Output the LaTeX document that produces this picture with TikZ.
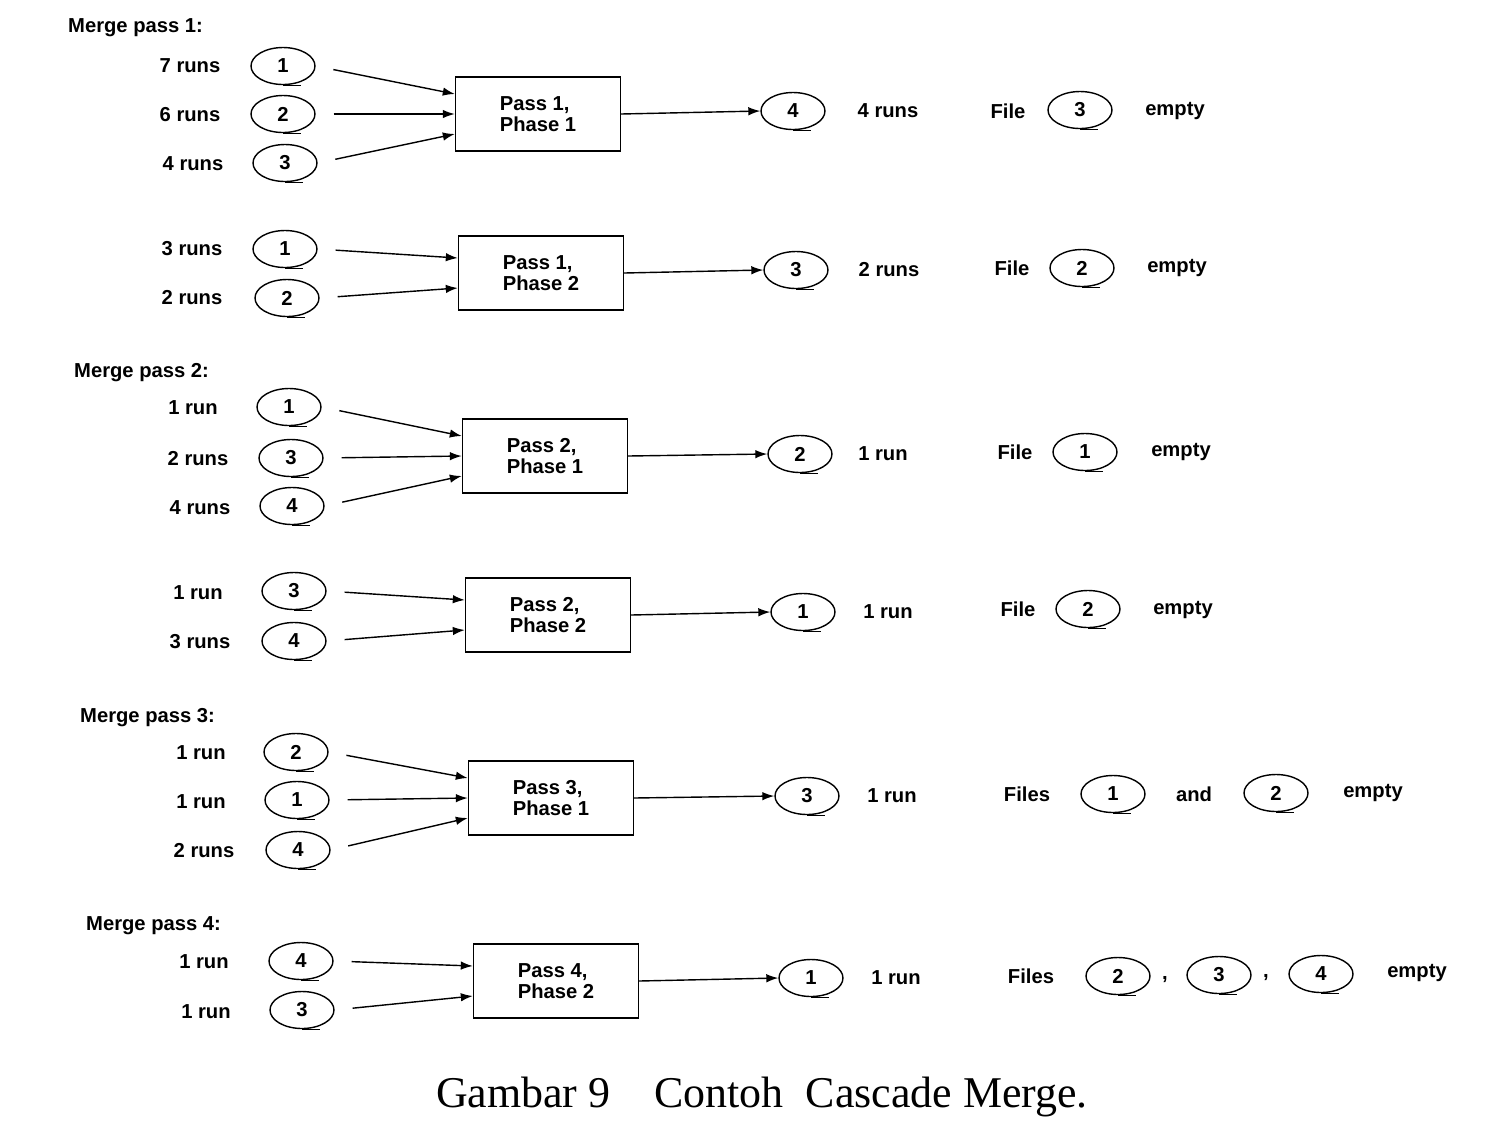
\documentclass[tikz,border=0pt]{standalone}
\usepackage{fontspec}
\setmainfont{Liberation Sans}
\newfontfamily\capfont{Liberation Serif}
\usetikzlibrary{positioning}
\usetikzlibrary{shapes.geometric}
\usetikzlibrary{arrows.meta}
\tikzstyle{tape}=[ellipse, draw, thick, minimum width=1.28cm, minimum height=0.74cm,
  inner sep=0pt, font=\fontsize{11.5}{12}\selectfont\bfseries,
  append after command={(\tikzlastnode.south) edge[thick, -] ++(0.36cm,0)}]
\tikzstyle{pass}=[rectangle, draw, thick, minimum width=3.3cm, minimum height=1.48cm,
  align=left, font=\fontsize{11.5}{12}\selectfont\bfseries]
\tikzstyle{lbl}=[font=\fontsize{11.5}{12}\selectfont\bfseries]
\tikzstyle{head}=[lbl, anchor=west]
\tikzstyle{arrin}=[-{Latex[length=2.4mm,width=1.7mm]}, thick, shorten <=0.36cm]
\tikzstyle{arrout}=[-{Latex[length=2.4mm,width=1.7mm]}, thick]

\begin{document}
\begin{tikzpicture}[x=0.02cm, y=-0.02cm]
\useasboundingbox (0,0) rectangle (1502,1127);

% merge pass 1, phase 1
\node[head] (mp1) at (62,28) {Merge pass 1:};
\node[lbl] (r11) at (190,66) {7 runs};
\node[tape] (t11) at (283,66) {1};
\node[lbl] (r12) at (190,115) {6 runs};
\node[tape] (t12) at (283,114) {2};
\node[lbl] (r13) at (193,164) {4 runs};
\node[tape] (t13) at (285,163) {3};
\node[pass] (b11) at (538,114) {Pass 1,\\Phase 1};
\draw[arrin] (t11.east) -- ([yshift=0.4cm]b11.west);
\draw[arrin] (t12.east) -- (b11.west);
\draw[arrin] (t13.east) -- ([yshift=-0.4cm]b11.west);
\node[tape] (o11) at (793,111) {4};
\draw[arrout] (b11.east) -- (o11.west);
\node[lbl] (n11) at (888,111) {4 runs};
\node[lbl] (f11) at (1008,111) {File};
\node[tape] (e11) at (1080,110) {3};
\node[lbl] (m11) at (1175,111) {empty};

% merge pass 1, phase 2
\node[lbl] (r21) at (192,249) {3 runs};
\node[tape] (t21) at (285,249) {1};
\node[lbl] (r22) at (192,298) {2 runs};
\node[tape] (t22) at (287,298) {2};
\node[pass] (b12) at (541,273) {Pass 1,\\Phase 2};
\draw[arrin] (t21.east) -- ([yshift=0.3cm]b12.west);
\draw[arrin] (t22.east) -- ([yshift=-0.3cm]b12.west);
\node[tape] (o12) at (796,270) {3};
\draw[arrout] (b12.east) -- (o12.west);
\node[lbl] (n12) at (889,270) {2 runs};
\node[lbl] (f12) at (1012,268) {File};
\node[tape] (e12) at (1082,268) {2};
\node[lbl] (m12) at (1177,268) {empty};

% merge pass 2, phase 1
\node[head] (mp2) at (68,373) {Merge pass 2:};
\node[lbl] (r31) at (193,408) {1 run};
\node[tape] (t31) at (289,407) {1};
\node[lbl] (r32) at (198,459) {2 runs};
\node[tape] (t32) at (291,458) {3};
\node[lbl] (r33) at (200,508) {4 runs};
\node[tape] (t33) at (292,506) {4};
\node[pass] (b21) at (545,456) {Pass 2,\\Phase 1};
\draw[arrin] (t31.east) -- ([yshift=0.4cm]b21.west);
\draw[arrin] (t32.east) -- (b21.west);
\draw[arrin] (t33.east) -- ([yshift=-0.4cm]b21.west);
\node[tape] (o21) at (800,454) {2};
\draw[arrout] (b21.east) -- (o21.west);
\node[lbl] (n21) at (883,454) {1 run};
\node[lbl] (f21) at (1015,452) {File};
\node[tape] (e21) at (1085,452) {1};
\node[lbl] (m21) at (1181,452) {empty};

% merge pass 2, phase 2
\node[lbl] (r41) at (198,593) {1 run};
\node[tape] (t41) at (294,591) {3};
\node[lbl] (r42) at (200,642) {3 runs};
\node[tape] (t42) at (294,641) {4};
\node[pass] (b22) at (548,615) {Pass 2,\\Phase 2};
\draw[arrin] (t41.east) -- ([yshift=0.3cm]b22.west);
\draw[arrin] (t42.east) -- ([yshift=-0.3cm]b22.west);
\node[tape] (o22) at (803,612) {1};
\draw[arrout] (b22.east) -- (o22.west);
\node[lbl] (n22) at (888,612) {1 run};
\node[lbl] (f22) at (1018,609) {File};
\node[tape] (e22) at (1088,609) {2};
\node[lbl] (m22) at (1183,610) {empty};

% merge pass 3
\node[head] (mp3) at (74,718) {Merge pass 3:};
\node[lbl] (r51) at (201,753) {1 run};
\node[tape] (t51) at (296,752) {2};
\node[lbl] (r52) at (201,802) {1 run};
\node[tape] (t52) at (297,800) {1};
\node[lbl] (r53) at (204,851) {2 runs};
\node[tape] (t53) at (298,850) {4};
\node[pass] (b31) at (551,798) {Pass 3,\\Phase 1};
\draw[arrin] (t51.east) -- ([yshift=0.4cm]b31.west);
\draw[arrin] (t52.east) -- (b31.west);
\draw[arrin] (t53.east) -- ([yshift=-0.4cm]b31.west);
\node[tape] (o31) at (807,796) {3};
\draw[arrout] (b31.east) -- (o31.west);
\node[lbl] (n31) at (892,796) {1 run};
\node[lbl] (f31) at (1027,794) {Files};
\node[tape] (e31) at (1113,794) {1};
\node[lbl] (a31) at (1194,794) {and};
\node[tape] (e32) at (1276,793) {2};
\node[lbl] (m31) at (1373,793) {empty};

% merge pass 4
\node[head] (mp4) at (80,926) {Merge pass 4:};
\node[lbl] (r61) at (204,962) {1 run};
\node[tape] (t61) at (301,961) {4};
\node[lbl] (r62) at (206,1012) {1 run};
\node[tape] (t62) at (302,1010) {3};
\node[pass] (b42) at (556,981) {Pass 4,\\Phase 2};
\draw[arrin] (t61.east) -- ([yshift=0.3cm]b42.west);
\draw[arrin] (t62.east) -- ([yshift=-0.3cm]b42.west);
\node[tape] (o42) at (811,978) {1};
\draw[arrout] (b42.east) -- (o42.west);
\node[lbl] (n42) at (896,978) {1 run};
\node[lbl] (f42) at (1031,976) {Files};
\node[tape] (e41) at (1118,976) {2};
\node[lbl] (c41) at (1165,980) {,};
\node[tape] (e42) at (1219,975) {3};
\node[lbl] (c42) at (1266,978) {,};
\node[tape] (e43) at (1321,974) {4};
\node[lbl] (m42) at (1417,973) {empty};

\node[font=\capfont\fontsize{25}{28}\selectfont] (cap) at (762,1097)
  {Gambar 9\quad Contoh\enspace Cascade Merge.};
\end{tikzpicture}
\end{document}
